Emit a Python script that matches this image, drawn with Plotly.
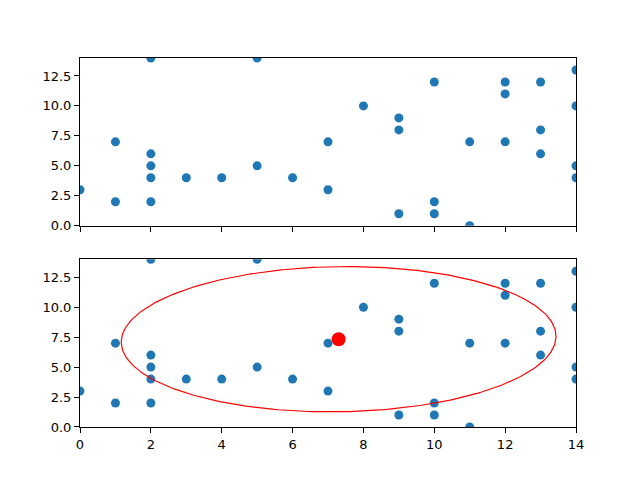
import numpy as np
import plotly.graph_objects as go
from plotly.subplots import make_subplots

# Data
x_vals = [0, 1, 1, 2, 2, 2, 2, 2, 3, 4, 5, 5, 6, 7, 7, 8, 9, 9, 9, 10, 10, 10,
          11, 11, 12, 12, 12, 13, 13, 13, 14, 14, 14, 14]
y_vals = [3, 7, 2, 14, 6, 5, 4, 2, 4, 4, 14, 5, 4, 7, 3, 10, 9, 8, 1, 12, 2, 1,
          7, 0, 12, 11, 7, 12, 8, 6, 13, 10, 5, 4]
center = [7.3, 7.33]
ellipse_width = 12.45
ellipse_height = 11.95
ellipse_angle = 37.0
x_ticks = [0, 2, 4, 6, 8, 10, 12, 14]
y_ticks = [0, 2.5, 5, 7.5, 10, 12.5]

# Ellipse outline in data space
t = np.linspace(0, 2 * np.pi, 361)
a = ellipse_width / 2
b = ellipse_height / 2
th = np.deg2rad(ellipse_angle)
ex = center[0] + a * np.cos(t) * np.cos(th) - b * np.sin(t) * np.sin(th)
ey = center[1] + a * np.cos(t) * np.sin(th) + b * np.sin(t) * np.cos(th)

fig = make_subplots(rows=2, cols=1, shared_xaxes=True, vertical_spacing=0.0909)

for r in (1, 2):
    fig.add_trace(go.Scatter(x=x_vals, y=y_vals, mode="markers",
                             marker=dict(color="#1f77b4", size=9),
                             showlegend=False), row=r, col=1)

fig.add_trace(go.Scatter(x=ex, y=ey, mode="lines",
                         line=dict(color="red", width=1.2),
                         showlegend=False, cliponaxis=True), row=2, col=1)
fig.add_trace(go.Scatter(x=[center[0]], y=[center[1]], mode="markers",
                         marker=dict(color="red", size=14),
                         showlegend=False), row=2, col=1)

axis_common = dict(showline=True, linecolor="black", linewidth=1, mirror=True,
                   ticks="outside", ticklen=5, tickwidth=1, tickcolor="black",
                   showgrid=False, zeroline=False,
                   tickfont=dict(family="DejaVu Sans", size=13, color="black"))

fig.update_xaxes(range=[0, 14], tickvals=x_ticks, **axis_common)
fig.update_yaxes(range=[0, 14], tickvals=y_ticks, tickformat=".1f", **axis_common)
fig.update_xaxes(showticklabels=False, row=1, col=1)

fig.update_layout(width=640, height=480,
                  margin=dict(l=72, r=72, t=50, b=61),
                  plot_bgcolor="white", paper_bgcolor="white",
                  font=dict(family="DejaVu Sans", size=13, color="black"))
fig.update_layout(yaxis=dict(domain=[0.5455, 1.0]), yaxis2=dict(domain=[0.0, 0.4545]))

fig.write_html("out.html")
